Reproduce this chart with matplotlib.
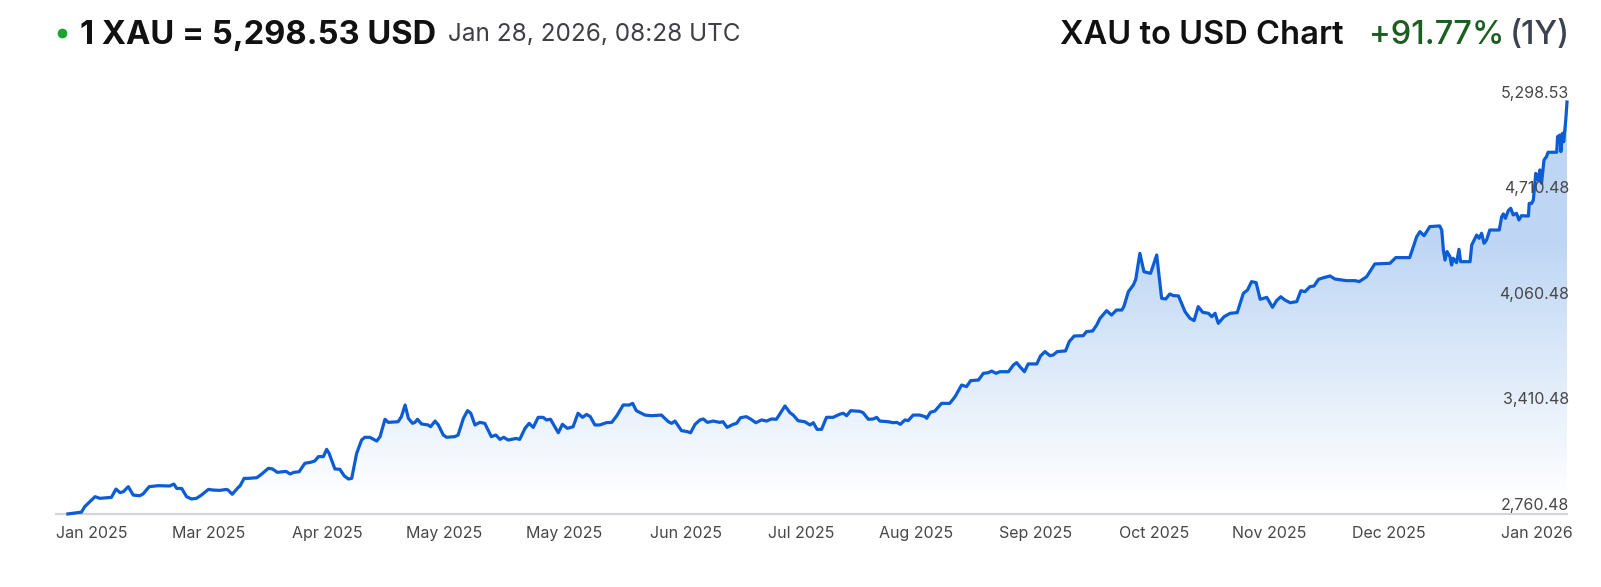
import numpy as np
import matplotlib
matplotlib.use("Agg")
import matplotlib.pyplot as plt
from matplotlib.lines import Line2D

plt.rcParams['font.family'] = ['Inter', 'DejaVu Sans']

W, H = 1601, 587

# days since Jan 28, 2025 and the XAU price in USD
day_offset = [
    0, 3.3, 4.1, 6.6, 7.8, 10.6, 11.7, 12.7, 13.5, 14.7, 15.9, 17.5, 18.3, 19.8,
    21.2, 22.0, 24.8, 25.8, 26.5, 27.7, 28.9, 30.1, 31.3, 32.5, 34.2, 35.4, 37.0,
    38.6, 39.0, 40.0, 41.5, 41.9, 42.9, 43.9, 46.0, 47.2, 48.8, 49.8, 51.0, 53.1,
    54.1, 55.0, 56.3, 57.7, 59.1, 60.1, 61.0, 62.2, 63.0, 63.6, 65.0, 66.2, 67.3,
    68.3, 69.1, 70.3, 71.5, 72.3, 73.5, 75.2, 76.0, 77.2, 78.0, 80.4, 81.2, 82.1,
    82.9, 83.9, 84.5, 85.1, 86.1, 87.7, 88.3, 89.4, 90.2, 91.4, 92.2, 94.2, 95.0,
    96.3, 97.3, 98.1, 99.1, 100.3, 101.5, 103.1, 104.2, 105.2, 106.1, 107.2, 109.1,
    110.0, 111.3, 112.3, 113.3, 114.5, 115.7, 116.5, 117.5, 119.4, 120.4, 121.6,
    123.0, 124.2, 125.3, 126.3, 127.2, 128.3, 129.5, 131.1, 132.4, 133.6, 135.2,
    136.7, 137.5, 138.4, 140.5, 142.1, 144.5, 146.2, 147.0, 147.8, 149.4, 150.8,
    151.6, 152.7, 153.9, 154.7, 155.7, 157.1, 158.7, 159.5, 160.5, 162.0, 162.8,
    163.8, 165.2, 166.2, 167.5, 168.9, 170.1, 171.3, 172.5, 174.6, 175.8, 176.6,
    177.8, 179.4, 180.7, 181.5, 182.4, 183.5, 184.7, 186.3, 188.0, 188.8, 189.6,
    190.6, 192.8, 193.6, 194.9, 196.1, 196.9, 197.7, 199.7, 200.9, 201.8, 202.7,
    203.8, 204.6, 205.8, 207.4, 208.7, 209.1, 210.0, 211.1, 212.7, 214.7, 216.0,
    217.6, 218.8, 219.8, 221.7, 222.9, 224.1, 224.9, 226.0, 226.9, 229.0, 230.2,
    231.0, 231.8, 232.9, 233.8, 235.9, 236.8, 237.9, 239.1, 239.9, 240.9, 242.9,
    243.8, 245.0, 247.2, 248.0, 249.5, 250.5, 251.3, 252.9, 254.1, 255.3, 256.6,
    257.1, 258.2, 259.4, 260.0, 261.0, 262.0, 263.6, 265.1, 266.3, 267.3, 268.3,
    269.1, 270.4, 272.0, 273.2, 274.2, 275.2, 276.3, 277.7, 278.5, 279.3, 280.1,
    281.5, 283.0, 284.7, 286.2, 287.2, 288.2, 289.3, 290.3, 291.9, 293.3, 294.3,
    295.3, 296.3, 297.6, 299.2, 300.2, 301.2, 302.4, 303.4, 304.5, 305.7, 307.3,
    308.5, 310.1, 311.3, 313.4, 314.4, 316.2, 318.2, 321.9, 323.3, 326.7, 328.4,
    329.2, 330.2, 331.6, 334.0, 334.5, 334.9, 335.3, 335.8, 336.5, 336.9, 337.3,
    338.1, 338.7, 339.1, 341.4, 341.8, 343.0, 343.6, 344.2, 344.8, 345.4, 346.2,
    348.5, 349.1, 349.5, 350.0, 350.7, 351.3, 351.9, 352.7, 353.3, 353.9, 355.6,
    355.8, 356.4, 356.8, 357.4, 358.0, 358.4, 358.8, 359.4, 360.0, 360.4, 362.5,
    362.7, 363.3, 363.5, 363.9, 364.2, 364.7, 365.0,
]
price_usd = [
    2761, 2772, 2806, 2867, 2857, 2863, 2914, 2892, 2898, 2929, 2877, 2873, 2884, 2929,
    2933, 2935, 2933, 2945, 2918, 2918, 2867, 2853, 2857, 2877, 2912, 2908, 2906,
    2912, 2908, 2882, 2925, 2933, 2980, 2980, 2984, 3007, 3042, 3038, 3017, 3023,
    3007, 3017, 3021, 3073, 3079, 3087, 3114, 3114, 3159, 3134, 3038, 3036, 2995,
    2976, 2980, 3134, 3216, 3233, 3233, 3210, 3237, 3344, 3325, 3329, 3360, 3432,
    3350, 3319, 3325, 3344, 3315, 3309, 3298, 3333, 3309, 3247, 3233, 3237, 3247,
    3350, 3397, 3381, 3309, 3325, 3319, 3237, 3247, 3220, 3233, 3216, 3226,
    3220, 3288, 3319, 3294, 3356, 3356, 3340, 3344, 3261, 3313, 3288,
    3298, 3381, 3356, 3374, 3360, 3309, 3309, 3323, 3325, 3364, 3432,
    3432, 3442, 3397, 3370, 3366, 3370, 3329, 3319, 3333, 3274, 3268,
    3261, 3313, 3340, 3346, 3325, 3333, 3325, 3329, 3294, 3313, 3319,
    3354, 3360, 3346, 3323, 3340, 3333, 3346, 3344, 3426, 3385, 3370,
    3335, 3329, 3309, 3323, 3282, 3282, 3356, 3356, 3376, 3381, 3366,
    3397, 3393, 3385, 3344, 3346, 3356, 3333, 3329, 3323, 3325, 3313,
    3340, 3336, 3370, 3370, 3360, 3350, 3387, 3395, 3442, 3442, 3483,
    3555, 3545, 3582, 3586, 3627, 3631, 3641, 3627, 3637, 3637, 3678,
    3693, 3668, 3637, 3685, 3685, 3734, 3761, 3736, 3740, 3761, 3765,
    3822, 3857, 3859, 3884, 3888, 3925, 3966, 4013, 3986, 4017, 4017,
    4038, 4130, 4171, 4206, 4366, 4253, 4243, 4356, 4089, 4085, 4116,
    4106, 4104, 4007, 3966, 3952, 4038, 4003, 3997, 3976, 3997, 3935,
    3976, 3997, 4001, 4120, 4140, 4192, 4186, 4083, 4095, 4034, 4075,
    4099, 4079, 4062, 4069, 4136, 4130, 4161, 4165, 4206, 4216, 4227,
    4208, 4202, 4198, 4198, 4192, 4222, 4301, 4305, 4340, 4340, 4469,
    4500, 4475, 4531, 4535, 4510, 4387, 4325, 4377, 4346, 4294, 4336,
    4309, 4391, 4315, 4315, 4418, 4479, 4459, 4490, 4428, 4448, 4510,
    4510, 4592, 4609, 4582, 4629, 4644, 4603, 4613, 4572, 4598, 4596,
    4674, 4674, 4695, 4859, 4818, 4880, 4798, 4941, 4962, 4989, 4989,
    5085, 5095, 4993, 5106, 5054, 5188, 5298.53,
]

tick_days = [5.8, 34.3, 63.1, 91.6, 120.8, 150.5, 178.5, 206.5, 235.7, 264.4, 292.4, 321.6, 357.7]
tick_labels = ["Jan 2025", "Mar 2025", "Apr 2025", "May 2025", "May 2025", "Jun 2025",
               "Jul 2025", "Aug 2025", "Sep 2025", "Oct 2025", "Nov 2025", "Dec 2025",
               "Jan 2026"]
y_levels = [2760.48, 3410.48, 4060.48, 4710.48, 5298.53]

price_now = "5,298.53"
change_pct = "+91.77%"
stamp = "Jan 28, 2026, 08:28 UTC"

LINE = '#0b5cd5'
LABEL = '#474747'


def fy(y):
    # pixel row from the top -> figure fraction
    return 1 - y / H


fig = plt.figure(figsize=(W / 100, H / 100), dpi=100)
fig.patch.set_facecolor('white')

ax = fig.add_axes([56 / W, fy(514), (1567 - 56) / W, (514 - 102) / H])
x0, x1 = -2.9, 365.0
ymin, ymax = y_levels[0], y_levels[-1]

# gradient under the line
poly = ax.fill_between(day_offset, price_usd, ymin, facecolor='none', edgecolor='none')
t = np.linspace(1, 0, 300)[:, None]
alpha = np.clip(1.54 - 1.6 * t, 0, 1)
top = np.array([190, 214, 244]) / 255
img = 1 - alpha[..., None] * (1 - top)
im = ax.imshow(img, extent=[x0, x1, ymin, ymax], origin='lower', aspect='auto',
               zorder=1, interpolation='bilinear')
im.set_clip_path(poly.get_paths()[0], transform=ax.transData)

ax.plot(day_offset, price_usd, color=LINE, lw=2.3, zorder=3, clip_on=False,
        solid_joinstyle='round')

ax.set_xlim(x0, x1)
ax.set_ylim(ymin, ymax)
for s in ['top', 'left', 'right']:
    ax.spines[s].set_visible(False)
ax.spines['bottom'].set_color('#d4d4d8')
ax.spines['bottom'].set_linewidth(1.6)
ax.set_yticks([])
ax.set_xticks(tick_days)
ax.set_xticklabels(tick_labels)
ax.tick_params(axis='x', length=0, pad=8.5, labelsize=11.5, labelcolor=LABEL)

for v in y_levels:
    ax.annotate(f"{v:,.2f}", xy=(1, v), xycoords=('axes fraction', 'data'),
                xytext=(2, 4), textcoords='offset pixels', ha='right', va='baseline',
                fontsize=11.5, color=LABEL, zorder=4)

# header
fig.add_artist(Line2D([62 / W], [fy(33)], marker='o', ms=6, color='#1aa32e',
                      transform=fig.transFigure))
t_main = fig.text(80 / W, fy(44), f"1 XAU = {price_now} USD", fontsize=23.5,
                  fontweight='bold', color='#111111', va='baseline')
fig.canvas.draw()
r = fig.canvas.get_renderer()
bb = t_main.get_window_extent(r)
fig.text((bb.x1 + 12) / W, fy(41), stamp, fontsize=17.5, color='#3f3f46', va='baseline')

t_1y = fig.text(1570 / W, fy(44), "(1Y)", fontsize=23.5, fontweight='medium',
                color='#3c4350', ha='right', va='baseline')
bb = t_1y.get_window_extent(r)
t_pct = fig.text((bb.x0 - 6) / W, fy(44), change_pct, fontsize=23.5, fontweight='medium',
                 color='#1c5e20', ha='right', va='baseline')
bb = t_pct.get_window_extent(r)
fig.text((bb.x0 - 25) / W, fy(44), "XAU to USD Chart", fontsize=23.5, fontweight='semibold',
         color='#111111', ha='right', va='baseline')

fig.savefig('out.png', dpi=100, facecolor='white')
